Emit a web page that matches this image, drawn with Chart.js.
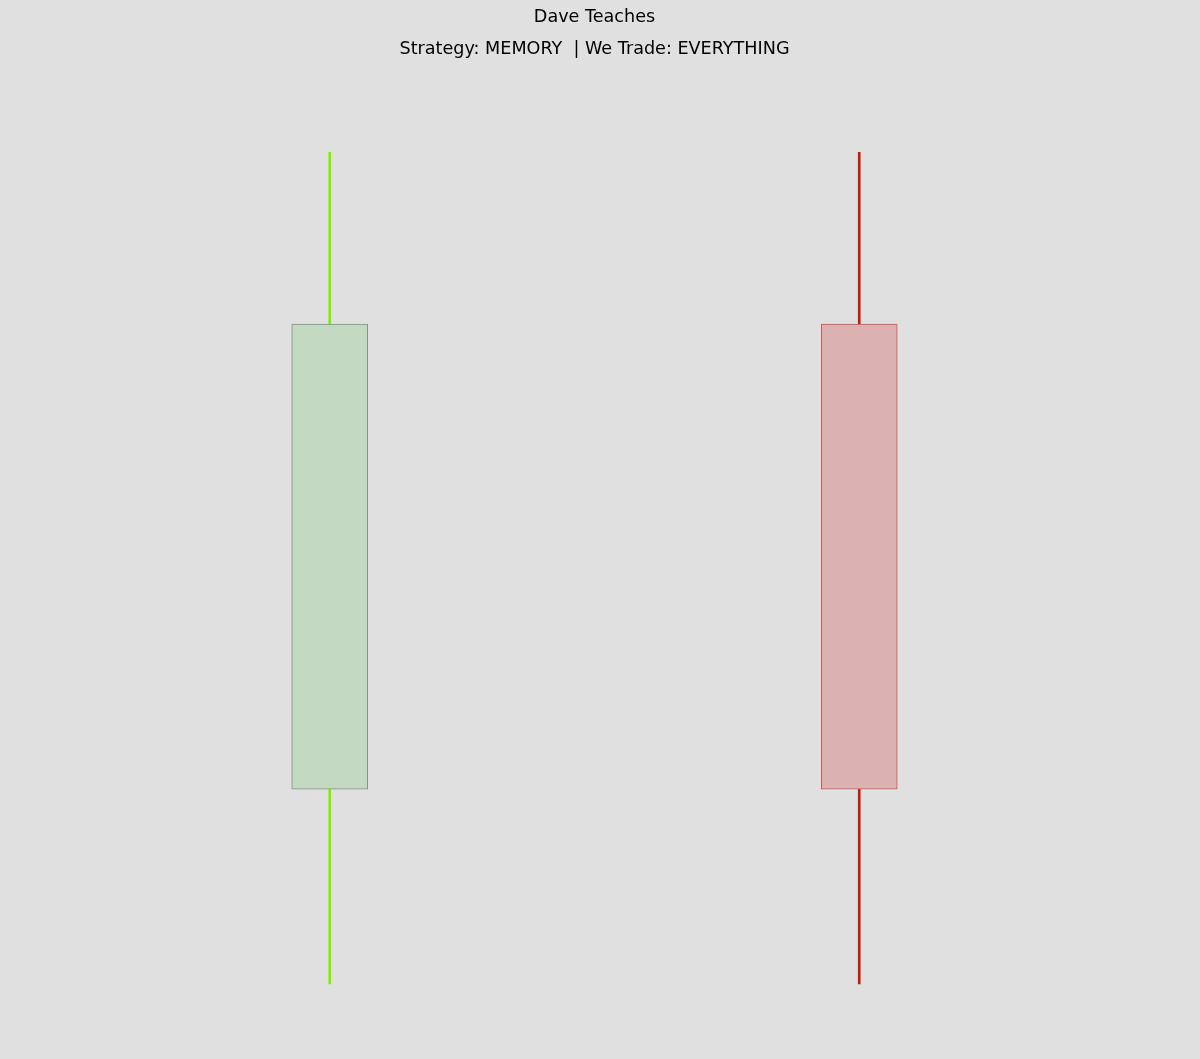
<!DOCTYPE html>
<html>
<head>
<meta charset="utf-8">
<script src="https://cdn.jsdelivr.net/npm/chart.js@4"></script>
<style>
  html, body { margin: 0; padding: 0; background: #e0e0e0; }
  #wrap { width: 1200px; height: 1059px; }
</style>
</head>
<body>
<div id="wrap"><canvas id="chart"></canvas></div>
<script>
// candle data
const categories = ["Candle 1", "Candle 2"]
const opens = [99.75, 123.0]
const closes = [123.0, 99.75]
const highs = [131.6, 131.6]
const lows = [90.0, 90.0]

const up = closes.map((c, i) => c >= opens[i])

const ctx = document.getElementById("chart").getContext("2d")

new Chart(ctx, {
  type: "bar",
  data: {
    labels: categories,
    datasets: [
      {
        label: "Body",
        data: categories.map((_, i) => [opens[i], closes[i]]),
        backgroundColor: up.map(u => u ? "#c4d9c1" : "#dbb1b1"),
        borderColor: up.map(u => u ? "#7d927d" : "#d25050"),
        borderWidth: 1,
        borderSkipped: false,
        barThickness: 76,
        grouped: false,
        order: 0,
      },
      {
        label: "Wick",
        data: categories.map((_, i) => [lows[i], highs[i]]),
        backgroundColor: up.map(u => u ? "#7cf000" : "#c81a0a"),
        borderWidth: 0,
        barThickness: 2,
        grouped: false,
        order: 1,
      },
    ],
  },
  options: {
    responsive: true,
    maintainAspectRatio: false,
    animation: false,
    layout: {
      padding: { left: 65, right: 76, top: 0, bottom: 0 },
    },
    plugins: {
      legend: { display: false },
      tooltip: { enabled: false },
      title: {
        display: true,
        text: "Dave Teaches",
        color: "#000",
        font: { size: 17.6, family: "DejaVu Sans", weight: "normal" },
        padding: { top: 7, bottom: 11 },
      },
      subtitle: {
        display: true,
        text: "Strategy: MEMORY  | We Trade: EVERYTHING",
        color: "#000",
        font: { size: 17.6, family: "DejaVu Sans", weight: "normal" },
        padding: { top: 0, bottom: 10 },
      },
    },
    scales: {
      x: { display: false },
      y: { display: false, min: 86.25, max: 135.7 },
    },
  },
})
</script>
</body>
</html>
